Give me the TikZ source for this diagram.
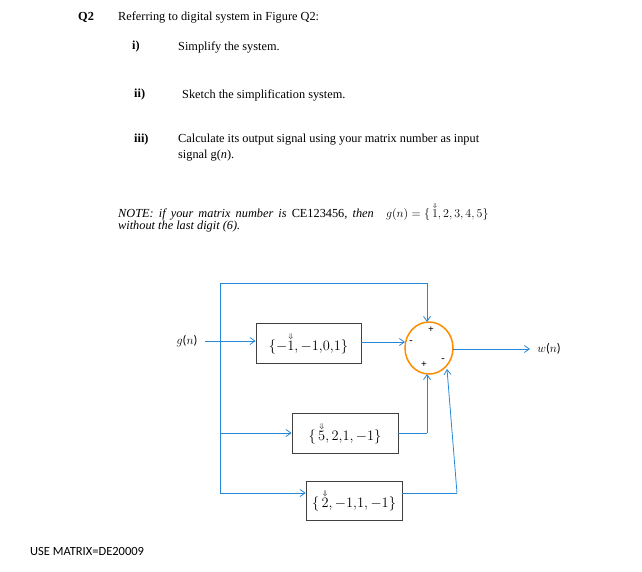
\documentclass[tikz,border=0pt]{standalone}
\usepackage{amsmath}
\usepackage{fontspec}
\setmainfont{Liberation Serif}
\newfontfamily\calfont{Carlito}
\usetikzlibrary{arrows.meta,shapes.geometric}
\begin{document}
\begin{tikzpicture}[x=1pt,y=-1pt,
  sig/.style={draw=blue!45!cyan!70!gray,line width=0.8pt},
  arr/.style={sig,-{Straight Barb[length=5pt,width=7pt]}},
  blk/.style={draw=black!75,line width=0.8pt,minimum width=#1,minimum height=40pt,inner sep=0pt,font=\fontsize{13.5}{15}\selectfont},
  txt/.style={anchor=west,inner sep=0pt,font=\fontsize{12.3}{14}\selectfont},
  lab/.style={inner sep=0pt,font=\calfont\fontsize{12.5}{14}\selectfont},
  sgn/.style={font=\fontsize{10}{11}\selectfont\bfseries,inner sep=0pt}]
\useasboundingbox (0,0) rectangle (642,571);
\node[txt,font=\bfseries\fontsize{12.3}{14}\selectfont] (q) at (78,17) {Q2};
\node[txt] (t0) at (118,17) {Referring to digital system in Figure Q2:};
\node[txt,font=\bfseries\fontsize{12.3}{14}\selectfont] (i1) at (132,47) {i)};
\node[txt] (t1) at (178,47) {Simplify the system.};
\node[txt,font=\bfseries\fontsize{12.3}{14}\selectfont] (i2) at (134,95) {ii)};
\node[txt] (t2) at (182,95) {Sketch the simplification system.};
\node[txt,font=\bfseries\fontsize{12.3}{14}\selectfont] (i3) at (134,140) {iii)};
\node[txt] (t3) at (178,140) {Calculate its output signal using your matrix number as input};
\node[txt] (t4) at (178,156) {signal g(\textit{n}).};
\node[txt] (n1) at (118,211) {\textit{NOTE:\, if\, your\, matrix\, number\, is}\, CE123456,\, \textit{then}\quad $g(n)=\{\,\overset{\scriptscriptstyle\Downarrow}{1},2,3,4,5\}$};
\node[txt] (n2) at (118,227) {\textit{without the last digit (6).}};
\node[txt,font=\calfont\fontsize{12.5}{14}\selectfont] (um) at (30,551) {USE MATRIX=DE20009};

\node[blk=105pt] (b1) at (308.5,343) {$\{-\overset{\scriptscriptstyle\Downarrow}{1},-1{,}0{,}1\}$};
\node[blk=106pt] (b2) at (345,433) {$\{\,\overset{\scriptscriptstyle\Downarrow}{5},2{,}1,-1\}$};
\node[blk=96pt,minimum height=39pt] (b3) at (354,500.5) {$\{\,\overset{\scriptscriptstyle\Downarrow}{2},-1{,}1,-1\}$};
\node[draw=orange!90!yellow,line width=1.5pt,ellipse,minimum width=48pt,minimum height=52pt,inner sep=0pt] (s) at (429,348) {};
\node[lab] (g) at (187,341) {$g$($n$)};
\node[lab] (w) at (549,349) {$w$($n$)};
\coordinate (j0) at (220,341);
\coordinate (tl) at (220,283);
\coordinate (tr) at (427,283);
\coordinate (bl) at (220,493);
\coordinate (m2) at (220,433);
\coordinate (c2) at (427,433);
\coordinate (c3) at (457,493);
\draw[arr] (205,341) -- (b1.west|-0,341);
\draw[sig] (j0) -- (tl) -- (tr);
\draw[arr] (tr) -- (427,322);
\draw[sig] (j0) -- (bl);
\draw[arr] (m2) -- (b2.west|-m2);
\draw[arr] (bl) -- (b3.west|-bl);
\draw[arr] (b1.east|-0,342) -- (405,342);
\draw[sig] (b2.east|-c2) -- (c2);
\draw[arr] (c2) -- (427,374);
\draw[sig] (b3.east|-c3) -- (c3);
\draw[arr] (c3) -- (447,369);
\draw[arr] (453,349) -- (530,349);
\node[sgn] (p1) at (431,330) {+};
\node[sgn] (p2) at (411,342) {-};
\node[sgn] (p3) at (424,365) {+};
\node[sgn] (p4) at (443,360) {-};
\end{tikzpicture}
\end{document}
